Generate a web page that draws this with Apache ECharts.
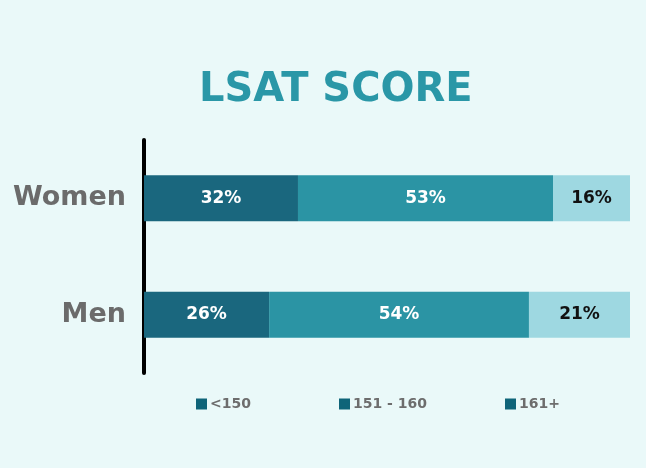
<!DOCTYPE html>
<html>
<head>
<meta charset="utf-8">
<script src="https://cdn.jsdelivr.net/npm/echarts@6/dist/echarts.min.js"></script>
<style>
  html, body { margin: 0; padding: 0; background: #eaf9f9; }
  #chart { width: 646px; height: 468px; }
</style>
</head>
<body>
<div id="chart"></div>
<script>
// data
var categories = ['Women', 'Men'];
var seriesNames = ['<150', '151 - 160', '161+'];
var low = [32, 26];
var mid = [53, 54];
var high = [16, 21];

var FONT = '"DejaVu Sans"';
var colors = ['#1a677e', '#2b94a4', '#9ed8e1'];
var labelColors = ['#ffffff', '#ffffff', '#111111'];
var values = [low, mid, high];

var chart = echarts.init(document.getElementById('chart'));

var series = seriesNames.map(function (name, i) {
	return {
		name: name,
		type: 'bar',
		stack: 'total',
		barWidth: 46,
		data: values[i],
		itemStyle: { color: colors[i] },
		label: {
			show: true,
			position: 'inside',
			formatter: '{c}%',
			color: labelColors[i],
			fontFamily: FONT,
			fontWeight: 'bold',
			fontSize: 17
		}
	};
});

// legend markers are all the dark teal in the original
var legendLefts = [191, 334, 500];
var legends = seriesNames.map(function (name, i) {
	return {
		data: [{ name: name, itemStyle: { color: '#0f6479' } }],
		left: legendLefts[i],
		top: 392,
		itemWidth: 11,
		itemHeight: 11,
		itemGap: 4,
		icon: 'rect',
		selectedMode: false,
		textStyle: {
			color: '#6d6d6d',
			fontFamily: FONT,
			fontWeight: 'bold',
			fontSize: 14,
			padding: [0, 0, 0, -2]
		}
	};
});

chart.setOption({
	backgroundColor: '#eaf9f9',
	animation: false,
	title: {
		text: 'LSAT SCORE',
		left: 194,
		top: 66,
		textStyle: {
			color: '#2a97a7',
			fontFamily: FONT,
			fontWeight: 'bold',
			fontSize: 40
		}
	},
	legend: legends,
	grid: { left: 144, right: 16, top: 140, bottom: 95 },
	xAxis: {
		type: 'value',
		min: 0,
		max: 101,
		show: false
	},
	yAxis: {
		type: 'category',
		data: categories,
		inverse: true,
		offset: 2,
		axisLine: { show: true, lineStyle: { color: '#000000', width: 4 } },
		axisTick: { show: false },
		axisLabel: {
			color: '#6b6b6b',
			fontFamily: FONT,
			fontWeight: 'bold',
			fontSize: 27,
			margin: 16
		}
	},
	series: series
});
</script>
</body>
</html>
